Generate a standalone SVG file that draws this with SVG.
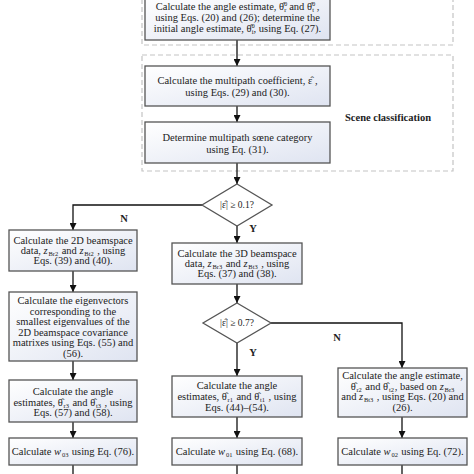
<svg xmlns="http://www.w3.org/2000/svg" width="474" height="474" viewBox="0 0 474 474">
<defs>
<linearGradient id="bg" x1="0" y1="0" x2="1" y2="1">
<stop offset="0" stop-color="#ffffff"/>
<stop offset="1" stop-color="#dfe4f1"/>
</linearGradient>
<marker id="arr" viewBox="0 0 10 10" refX="10" refY="5" markerWidth="7" markerHeight="7" markerUnits="userSpaceOnUse" orient="auto">
<path d="M0,0 L10,5 L0,10 Z" fill="#111"/>
</marker>
<style>
.box{fill:url(#bg);stroke:#555;stroke-width:1.3}
.dia{fill:#fff;stroke:#555;stroke-width:1.3}
.grp{fill:none;stroke:#c4c4c4;stroke-width:1.2;stroke-dasharray:5 3}
.con{fill:none;stroke:#111;stroke-width:1.3}
text{font-family:"Liberation Serif","DejaVu Serif",serif;font-size:10.5px;fill:#222;text-anchor:middle}
.lab{font-weight:bold;font-size:10.5px}
.sm{font-size:6.5px}
.it{font-style:italic}
</style>
</defs>
<rect x="0" y="0" width="474" height="474" fill="#fff"/>
<g id="groups">
<rect class="grp" x="142" y="-4" width="311" height="49"/>
<rect class="grp" x="142" y="55" width="311" height="116"/>
<text class="lab" x="388" y="121">Scene classification</text>
</g>
<g id="connectors">
<path class="con" d="M237,40 V66" marker-end="url(#arr)"/>
<path class="con" d="M237,106 V122" marker-end="url(#arr)"/>
<path class="con" d="M237,163 V184" marker-end="url(#arr)"/>
<path class="con" d="M202,205 H73 V230" marker-end="url(#arr)"/>
<path class="con" d="M237,226 V243" marker-end="url(#arr)"/>
<path class="con" d="M73,271 V292" marker-end="url(#arr)"/>
<path class="con" d="M73,361 V380" marker-end="url(#arr)"/>
<path class="con" d="M73,422 V438" marker-end="url(#arr)"/>
<path class="con" d="M73,465 V474"/>
<path class="con" d="M237,284 V303" marker-end="url(#arr)"/>
<path class="con" d="M237,343 V376" marker-end="url(#arr)"/>
<path class="con" d="M237,417 V438" marker-end="url(#arr)"/>
<path class="con" d="M237,465 V474"/>
<path class="con" d="M271,323 H402 V368" marker-end="url(#arr)"/>
<path class="con" d="M402,417 V438" marker-end="url(#arr)"/>
<path class="con" d="M402,465 V474"/>
<text class="lab" x="124" y="222">N</text>
<text class="lab" x="253" y="232">Y</text>
<text class="lab" x="253" y="356">Y</text>
<text class="lab" x="337" y="341">N</text>
</g>
<g id="n-init">
<rect class="box" x="145" y="-4" width="185" height="44"/>
<text x="237.5" y="10">Calculate the angle estimate, θ̂<tspan class="sm" dy="-4">0</tspan><tspan class="sm" dx="-3" dy="6">r</tspan><tspan dy="-2"> and θ̂</tspan><tspan class="sm" dy="-4">0</tspan><tspan class="sm" dx="-3" dy="6">t</tspan><tspan dy="-2"> ,</tspan></text>
<text x="237.5" y="21">using Eqs. (20) and (26); determine the</text>
<text x="237.5" y="32">initial angle estimate, θ̂<tspan class="sm" dy="-4">0</tspan><tspan class="sm" dx="-3" dy="6">i</tspan><tspan dy="-2">, using Eq. (27).</tspan></text>
</g>
<g id="n-coef">
<rect class="box" x="145" y="66" width="185" height="40"/>
<text x="237.5" y="84">Calculate the multipath coefficient, ε̂ ,</text>
<text x="237.5" y="96">using Eqs. (29) and (30).</text>
</g>
<g id="n-scene">
<rect class="box" x="145" y="122" width="185" height="41"/>
<text x="237.5" y="141">Determine multipath sœne category</text>
<text x="237.5" y="153">using Eq. (31).</text>
</g>
<g id="d-01">
<polygon class="dia" points="237,184 272,205 237,226 202,205"/>
<text x="237" y="208" style="font-size:9.5px">|ε̂| ≥ 0.1?</text>
</g>
<g id="n-2d">
<rect class="box" x="9" y="230" width="128" height="41"/>
<text x="73" y="244">Calculate the 2D beamspace</text>
<text x="73" y="254">data, <tspan class="it">z</tspan><tspan class="sm" dx="0.8" dy="2">Br2</tspan><tspan dx="0.8" dy="-2"> and </tspan><tspan class="it">z</tspan><tspan class="sm" dx="0.8" dy="2">Bt2</tspan><tspan dx="0.8" dy="-2"> , using</tspan></text>
<text x="73" y="264">Eqs. (39) and (40).</text>
</g>
<g id="n-eig">
<rect class="box" x="9" y="292" width="128" height="69"/>
<text x="73" y="304">Calculate the eigenvectors</text>
<text x="73" y="314.5">corresponding to the</text>
<text x="73" y="325">smallest eigenvalues of the</text>
<text x="73" y="335.5">2D beamspace covariance</text>
<text x="73" y="346">matrixes using Eqs. (55) and</text>
<text x="73" y="356.5">(56).</text>
</g>
<g id="n-ang3">
<rect class="box" x="9" y="380" width="128" height="42"/>
<text x="73" y="395">Calculate the angle</text>
<text x="73" y="406">estimates, θ̂<tspan class="sm" dx="0.8" dy="2">r3</tspan><tspan dx="0.8" dy="-2"> and θ̂</tspan><tspan class="sm" dx="0.8" dy="2">t3</tspan><tspan dx="0.8" dy="-2"> , using</tspan></text>
<text x="73" y="416">Eqs. (57) and (58).</text>
</g>
<g id="n-w03">
<rect class="box" x="9" y="438" width="128" height="27"/>
<text x="73" y="455">Calculate <tspan class="it">w</tspan><tspan class="sm" dx="0.8" dy="2">03</tspan><tspan dx="0.8" dy="-2"> using Eq. (76).</tspan></text>
</g>
<g id="n-3d">
<rect class="box" x="172" y="243" width="130" height="41"/>
<text x="237" y="257">Calculate the 3D beamspace</text>
<text x="237" y="267">data, <tspan class="it">z</tspan><tspan class="sm" dx="0.8" dy="2">Br3</tspan><tspan dx="0.8" dy="-2"> and </tspan><tspan class="it">z</tspan><tspan class="sm" dx="0.8" dy="2">Bt3</tspan><tspan dx="0.8" dy="-2"> , using</tspan></text>
<text x="237" y="277">Eqs. (37) and (38).</text>
</g>
<g id="d-07">
<polygon class="dia" points="237,303 271,323 237,343 203,323"/>
<text x="237" y="326" style="font-size:9.5px">|ε̂| ≥ 0.7?</text>
</g>
<g id="n-ang1">
<rect class="box" x="172" y="376" width="130" height="41"/>
<text x="237" y="389">Calculate the angle</text>
<text x="237" y="400">estimates, θ̂<tspan class="sm" dx="0.8" dy="2">r1</tspan><tspan dx="0.8" dy="-2"> and θ̂</tspan><tspan class="sm" dx="0.8" dy="2">t1</tspan><tspan dx="0.8" dy="-2"> , using</tspan></text>
<text x="237" y="411">Eqs. (44)–(54).</text>
</g>
<g id="n-w01">
<rect class="box" x="172" y="438" width="130" height="27"/>
<text x="237" y="455">Calculate <tspan class="it">w</tspan><tspan class="sm" dx="0.8" dy="2">01</tspan><tspan dx="0.8" dy="-2"> using Eq. (68).</tspan></text>
</g>
<g id="n-ang2">
<rect class="box" x="338" y="368" width="129" height="49"/>
<text x="402.5" y="379">Calculate the angle estimate,</text>
<text x="402.5" y="390">θ̂<tspan class="sm" dx="0.8" dy="2">r2</tspan><tspan dx="0.8" dy="-2"> and θ̂</tspan><tspan class="sm" dx="0.8" dy="2">t2</tspan><tspan dx="0.8" dy="-2">, based on </tspan><tspan class="it">z</tspan><tspan class="sm" dx="0.8" dy="2">Br3</tspan></text>
<text x="402.5" y="400">and <tspan class="it">z</tspan><tspan class="sm" dx="0.8" dy="2">Bt3</tspan><tspan dx="0.8" dy="-2"> , using Eqs. (20) and</tspan></text>
<text x="402.5" y="411">(26).</text>
</g>
<g id="n-w02">
<rect class="box" x="338" y="438" width="129" height="27"/>
<text x="402.5" y="455">Calculate <tspan class="it">w</tspan><tspan class="sm" dx="0.8" dy="2">02</tspan><tspan dx="0.8" dy="-2"> using Eq. (72).</tspan></text>
</g>
</svg>
